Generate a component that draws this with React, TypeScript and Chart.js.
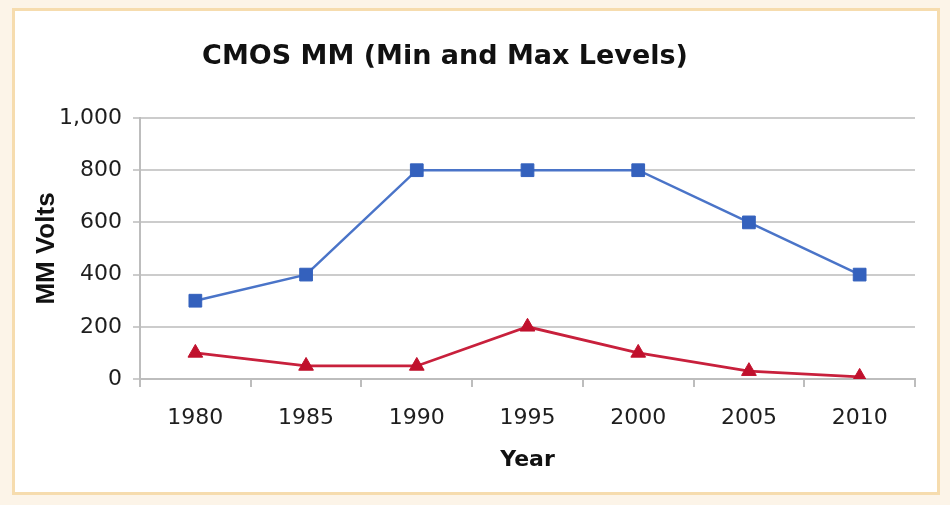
import React, { useEffect, useRef } from "react";
import { Chart, registerables } from "chart.js";

Chart.register(...registerables);

const years = ["1980", "1985", "1990", "1995", "2000", "2005", "2010"];
const maxLevels = [300, 400, 800, 800, 800, 600, 400];
const minLevels = [100, 50, 50, 200, 100, 30, 8];
const yTickValues = [0, 200, 400, 600, 800, 1000];
const chartTitle = "CMOS MM (Min and Max Levels)";
const xTitle = "Year";
const yTitle = "MM Volts";

const titlePlugin = {
  id: "fixedTitle",
  afterDraw(chart: any) {
    const ctx = chart.ctx;
    ctx.save();
    ctx.font = "bold 27px 'DejaVu Sans'";
    ctx.fillStyle = "#111111";
    ctx.textAlign = "center";
    ctx.textBaseline = "middle";
    ctx.fillText(chartTitle, 445, 57);
    ctx.restore();
  },
};

export default function App() {
  const ref = useRef<HTMLCanvasElement | null>(null);

  useEffect(() => {
    if (!ref.current) return;
    const chart = new Chart(ref.current, {
      type: "line",
      data: {
        labels: years,
        datasets: [
          {
            label: "Max",
            data: maxLevels,
            borderColor: "#4a74c8",
            backgroundColor: "#3461bd",
            pointBackgroundColor: "#3461bd",
            pointBorderColor: "#3461bd",
            borderWidth: 2.5,
            pointStyle: "rect",
            pointRadius: 9,
            pointBorderWidth: 1,
            tension: 0,
          },
          {
            label: "Min",
            data: minLevels,
            borderColor: "#c8203c",
            backgroundColor: "#c0102c",
            pointBackgroundColor: "#c0102c",
            pointBorderColor: "#c0102c",
            borderWidth: 2.8,
            pointStyle: "triangle",
            pointRadius: 8.5,
            pointBorderWidth: 1,
            tension: 0,
          },
        ],
      },
      options: {
        responsive: false,
        animation: false,
        devicePixelRatio: 1,
        layout: { padding: { top: 118, right: 35, left: 0, bottom: 0 } },
        plugins: {
          legend: { display: false },
          title: { display: false },
          tooltip: { enabled: false },
        },
        scales: {
          x: {
            type: "category",
            offset: true,
            afterFit(scale: any) {
              scale.height = 126;
            },
            grid: {
              offset: true,
              drawOnChartArea: false,
              drawTicks: true,
              tickLength: 8,
              color: "#bdbdbd",
              lineWidth: 2,
            },
            border: { color: "#bdbdbd", width: 2 },
            ticks: {
              padding: 18,
              color: "#1e1e1e",
              font: { family: "'DejaVu Sans'", size: 22 },
              maxRotation: 0,
            },
            title: {
              display: true,
              text: xTitle,
              color: "#111111",
              font: { family: "'DejaVu Sans'", size: 22, weight: "bold" },
              padding: { top: 0, bottom: 32 },
            },
          },
          y: {
            min: 0,
            max: 1000,
            afterFit(scale: any) {
              scale.width = 140;
            },
            afterBuildTicks(scale: any) {
              scale.ticks = yTickValues.map((v) => ({ value: v }));
            },
            grid: {
              color: "#cccccc",
              lineWidth: 2,
              drawTicks: true,
              tickLength: 7,
            },
            border: { color: "#bdbdbd", width: 2 },
            ticks: {
              padding: 11,
              color: "#1e1e1e",
              font: { family: "'DejaVu Sans'", size: 22 },
              callback: (v: any) => Number(v).toLocaleString("en-US"),
            },
            title: {
              display: true,
              text: yTitle,
              color: "#111111",
              font: { family: "'Liberation Sans'", size: 26, weight: "bold" },
              padding: { top: 31, bottom: 0 },
            },
          },
        },
      },
      plugins: [titlePlugin],
    });
    return () => chart.destroy();
  }, []);

  return (
    <div
      style={{
        position: "fixed",
        left: 0,
        top: 0,
        width: 950,
        height: 505,
        background: "#fcf4e8",
        overflow: "hidden",
      }}
    >
      <div
        style={{
          position: "absolute",
          left: 12,
          top: 8,
          width: 922,
          height: 481,
          border: "3px solid #f6dcae",
          background: "#ffffff",
        }}
      />
      <canvas
        ref={ref}
        width={950}
        height={505}
        style={{ position: "absolute", left: 0, top: 0, width: 950, height: 505 }}
      />
    </div>
  );
}
